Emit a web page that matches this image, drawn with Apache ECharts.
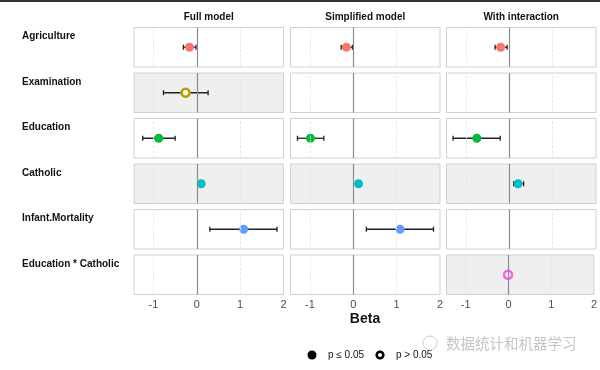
<!DOCTYPE html>
<html><head><meta charset="utf-8">
<script src="https://cdn.jsdelivr.net/npm/echarts@6/dist/echarts.min.js"></script>
<style>html,body{margin:0;padding:0;background:#fff}#c{width:600px;height:370px}</style>
</head><body><div id="c"></div>
<script>
// ---- data ----
const variables = ['Agriculture', 'Examination', 'Education', 'Catholic', 'Infant.Mortality', 'Education * Catholic'];
const models = ['Full model', 'Simplified model', 'With interaction'];
const varColors = ['#F8766D', '#B79F00', '#00BA38', '#00BFC4', '#619CFF', '#F564E3'];
const tickValues = [-1, 0, 1, 2];

const fullEst  = [-0.17, -0.26, -0.88, 0.10, 1.08, null];
const fullLow  = [-0.31, -0.77, -1.25, 0.06, 0.30, null];
const fullHigh = [-0.02,  0.26, -0.50, 0.14, 1.85, null];
const fullSig  = [true, false, true, true, true, null];
const fullShade = [false, true, false, true, false, false];

const simpEst  = [-0.16, null, -0.99, 0.12, 1.08, null];
const simpLow  = [-0.28, null, -1.29, 0.08, 0.30, null];
const simpHigh = [-0.02, null, -0.68, 0.16, 1.85, null];
const simpSig  = [true, null, true, true, true, null];
const simpShade = [false, false, false, true, false, false];

const intEst  = [-0.20, null, -0.75, 0.20, null, -0.01];
const intLow  = [-0.33, null, -1.30, 0.10, null, -0.02];
const intHigh = [-0.05, null, -0.21, 0.33, null, 0.00];
const intSig  = [true, null, true, true, null, false];
const intShade = [false, false, false, true, false, true];

const modelData = [
  {est: fullEst, low: fullLow, high: fullHigh, sig: fullSig, shade: fullShade},
  {est: simpEst, low: simpLow, high: simpHigh, sig: simpSig, shade: simpShade},
  {est: intEst,  low: intLow,  high: intHigh,  sig: intSig,  shade: intShade}
];

// ---- layout ----
const colLeft = [134, 290.5, 446.5];
const colW = 149.5;
const rowTop = [27.5, 73, 118.5, 164, 209.5, 255];
const rowH = 39.5;
const FONT = '"Liberation Sans", Arial, Helvetica, sans-serif';

const grids = [], xAxes = [], yAxes = [], series = [], graphics = [];

graphics.push({type: 'rect', left: 0, top: 0, shape: {x: 0, y: 0, width: 600, height: 2}, style: {fill: '#333'}});

variables.forEach((v, r) => {
  graphics.push({type: 'text', left: 22, top: rowTop[r] + 4, style: {text: v, font: 'bold 10px ' + FONT, fill: '#111'}});
  models.forEach((m, c) => {
    const g = r * 3 + c;
    const md = modelData[c];
    grids.push({
      left: colLeft[c], top: rowTop[r], width: colW, height: rowH,
      show: true, backgroundColor: md.shade[r] ? '#EFEFEF' : '#FFFFFF',
      borderColor: '#D0D0D0', borderWidth: 1
    });
    xAxes.push({
      type: 'value', gridIndex: g, min: -1.45, max: 2, interval: 0.05,
      axisLine: {show: false}, axisTick: {show: false}, splitLine: {show: false},
      axisLabel: {
        show: r === variables.length - 1, margin: 5, color: '#4D4D4D', fontSize: 11, fontFamily: FONT,
        formatter: val => tickValues.some(t => Math.abs(val - t) < 1e-6) ? String(Math.round(val) === 0 ? 0 : Math.round(val)) : ''
      }
    });
    yAxes.push({type: 'value', gridIndex: g, min: 0, max: 1, show: false});
    series.push({
      type: 'scatter', xAxisIndex: g, yAxisIndex: g, data: [], silent: true, z: 1,
      markLine: {
        silent: true, symbol: 'none', label: {show: false}, animation: false,
        data: [
          {xAxis: -1, lineStyle: {color: '#E3E3E3', width: 0.8, type: 'dashed'}},
          {xAxis: 1, lineStyle: {color: '#E3E3E3', width: 0.8, type: 'dashed'}},
          {xAxis: 0, lineStyle: {color: '#8C8C8C', width: 1.2, type: 'solid'}}
        ]
      }
    });
    if (md.est[r] !== null) {
      series.push({
        type: 'custom', xAxisIndex: g, yAxisIndex: g, z: 3, silent: true,
        data: [[md.low[r], md.high[r], 0.5]],
        encode: {x: [0, 1], y: 2},
        renderItem: (params, api) => {
          const a = api.coord([api.value(0), api.value(2)]);
          const b = api.coord([api.value(1), api.value(2)]);
          const h = 2.5;
          const st = {stroke: '#222', lineWidth: 1.3};
          return {type: 'group', children: [
            {type: 'line', shape: {x1: a[0], y1: a[1], x2: b[0], y2: b[1]}, style: st},
            {type: 'line', shape: {x1: a[0], y1: a[1] - h, x2: a[0], y2: a[1] + h}, style: st},
            {type: 'line', shape: {x1: b[0], y1: b[1] - h, x2: b[0], y2: b[1] + h}, style: st}
          ]};
        }
      });
      const sig = md.sig[r];
      series.push({
        type: 'scatter', xAxisIndex: g, yAxisIndex: g, z: 4, silent: true,
        symbol: 'circle', symbolSize: sig ? 9 : 8,
        data: [[md.est[r], 0.5]],
        itemStyle: {
          color: sig ? varColors[r] : '#FFFFFF', opacity: 1,
          borderColor: varColors[r], borderWidth: sig ? 0 : 2.6
        }
      });
    }
  });
});

models.forEach((m, c) => {
  graphics.push({type: 'text', x: colLeft[c] + colW / 2, y: 17,
    style: {text: m, font: 'bold 10px ' + FONT, fill: '#111', textAlign: 'center', textVerticalAlign: 'middle'}});
});
graphics.push({type: 'text', x: 365, y: 319,
  style: {text: 'Beta', font: 'bold 14px ' + FONT, fill: '#111', textAlign: 'center', textVerticalAlign: 'middle'}});

// legend
graphics.push({type: 'circle', shape: {cx: 312, cy: 355, r: 4.5}, style: {fill: '#000'}});
graphics.push({type: 'text', x: 328, y: 355, style: {text: 'p ≤ 0.05', font: '10px ' + FONT, fill: '#111', textVerticalAlign: 'middle'}});
graphics.push({type: 'circle', shape: {cx: 380, cy: 355, r: 3.3}, style: {fill: '#fff', stroke: '#000', lineWidth: 2.6}});
graphics.push({type: 'text', x: 396, y: 355, style: {text: 'p > 0.05', font: '10px ' + FONT, fill: '#111', textVerticalAlign: 'middle'}});

// watermark
graphics.push({type: 'circle', shape: {cx: 430, cy: 343, r: 7}, style: {fill: 'none', stroke: '#D0D0D0', lineWidth: 1}});
graphics.push({type: 'text', x: 446, y: 343, style: {text: '数据统计和机器学习', font: '14.5px "Noto Sans CJK SC", sans-serif', fill: '#C4C4C4', textVerticalAlign: 'middle'}});

const chart = echarts.init(document.getElementById('c'), null, {renderer: 'canvas'});
chart.setOption({
  animation: false,
  backgroundColor: '#fff',
  grid: grids, xAxis: xAxes, yAxis: yAxes, series: series, graphic: graphics
});
</script></body></html>
